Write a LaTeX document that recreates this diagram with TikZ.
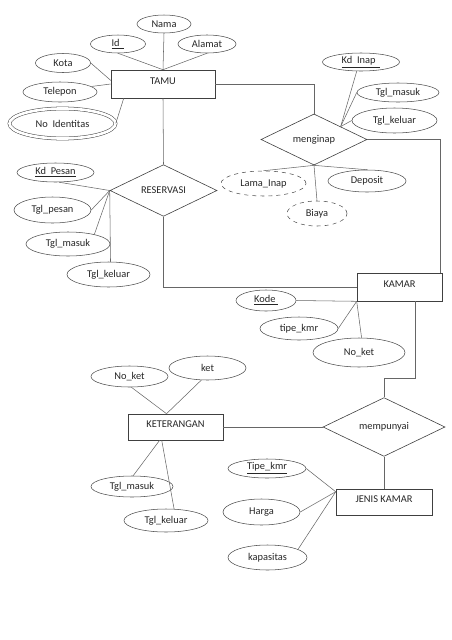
\documentclass[tikz,border=0pt]{standalone}
\usepackage{fontspec}
\setmainfont{Carlito}
\usetikzlibrary{shapes.geometric}
\begin{document}
\begin{tikzpicture}[x=0.75pt,y=-0.75pt,
  every node/.style={font=\fontsize{7.8}{9}\selectfont, text=black!85},
  ent/.style 2 args={draw=black!75, line width=0.45pt, rectangle, minimum width=#1*0.75pt, minimum height=#2*0.75pt, inner sep=0pt, text height=5.5pt, text depth=5pt},
  att/.style 2 args={draw=black!70, line width=0.4pt, ellipse, minimum width=#1*0.75pt, minimum height=#2*0.75pt, inner sep=0pt},
  rel/.style 2 args={draw=black!75, line width=0.45pt, diamond, minimum width=#1*0.75pt, minimum height=#2*0.75pt, inner sep=0pt},
  conn/.style={draw=black!60, line width=0.4pt}]
\useasboundingbox (0,0) rectangle (452,640);

% TAMU
\node[ent={104}{28}] (tamu) at (163,84) {TAMU};
\node[att={54}{18}] (nama) at (164,24) {Nama};
\node[att={55}{18}] (id) at (118,44) {\underline{Id\ \ }};
\node[att={58}{18}] (alamat) at (207,44) {Alamat};
\node[att={55}{19}] (kota) at (63,63) {Kota};
\node[att={74}{20}] (telepon) at (60,92) {Telepon};
\node[att={106}{30}, double, double distance=2pt] (noid) at (62.5,123.5) {No~ Identitas};
\draw[conn] (nama.south) -- (tamu.north);
\draw[conn] (id.south) -- (tamu.north);
\draw[conn] (alamat.south) -- (tamu.north);
\draw[conn] (kota.east) -- (tamu.176);
\draw[conn] (telepon.10) -- (tamu.west);
\draw[conn] (noid.east) -- (tamu.200);

% menginap
\node[rel={106}{39}] (mi) at (314,139.5) {menginap};
\node[att={77}{18}] (kdinap) at (361,62) {\underline{Kd~~Inap~~}};
\node[att={82}{19}] (tglmasuka) at (398,92.5) {Tgl\_masuk};
\node[att={85}{25}] (tglkeluara) at (394.5,120.5) {Tgl\_keluar};
\node[att={85}{25}, dashed] (lama) at (263.5,183.5) {Lama\_Inap};
\node[att={60}{25}, dashed] (biaya) at (317,213.5) {Biaya};
\node[att={78}{22}] (deposit) at (367,181) {Deposit};
\draw[conn] (tamu.east) -| (mi.north);
\draw[conn] (kdinap.245) -- (mi.north east);
\draw[conn] (tglmasuka.west) -- (mi.north east);
\draw[conn] (tglkeluara.west) -- (mi.north east);
\draw[conn] (lama.north) -- (mi.south);
\draw[conn] (biaya.north) -- (mi.south);
\draw[conn] (deposit.north) -- (mi.south);

% RESERVASI
\node[rel={107}{41}] (res) at (163.5,190.5) {RESERVASI};
\node[att={77}{19}] (kdpesan) at (55.5,172.5) {\underline{Kd~~Pesan}};
\node[att={77}{26}] (tglpesan) at (52.5,210) {Tgl\_pesan};
\node[att={84}{24}] (tglmasukb) at (68,244) {Tgl\_masuk};
\node[att={83}{25}] (tglkeluarb) at (108.5,274.5) {Tgl\_keluar};
\draw[conn] (tamu.south) -- (res.north);
\draw[conn] (kdpesan.290) -- (res.west);
\draw[conn] (tglpesan.east) -- (res.west);
\draw[conn] (tglmasukb.20) -- (res.west);
\draw[conn] (tglkeluarb.81) -- (res.west);

% KAMAR
\node[ent={85}{28}] (kamar) at (399.5,287) {KAMAR};
\node[att={60}{21}] (kode) at (266,300.5) {\underline{Kode\ }};
\node[att={78}{23}] (tipekmr) at (299,328.5) {tipe\_kmr};
\node[att={92}{29}] (noketa) at (359,352.5) {No\_ket};
\draw[conn] (res.south) |- (kamar.west);
\draw[conn] (mi.east) -| ([xshift=-1.5pt]kamar.north east);
\draw[conn] (kode.east) -- (kamar.south west);
\draw[conn] (tipekmr.east) -- (kamar.south west);
\draw[conn] (noketa.80) -- (kamar.south west);

% mempunyai
\node[rel={122}{39}] (mp) at (384,427) {mempunyai};
\draw[conn] ([xshift=11.6pt]kamar.south) -- ++(0,77) -| (mp.north);

% KETERANGAN
\node[ent={95}{26}] (keter) at (175.5,427) {KETERANGAN};
\node[att={77}{21}] (noketb) at (129.5,376.5) {No\_ket};
\node[att={77}{24}] (ketatt) at (207.5,368) {ket};
\node[att={82}{21}] (tglmasukc) at (132,486.5) {Tgl\_masuk};
\node[att={84}{23}] (tglkeluarc) at (166,520.5) {Tgl\_keluar};
\draw[conn] (keter.east) -- (mp.west);
\draw[conn] (noketb.280) -- (keter.124);
\draw[conn] (ketatt.243) -- (keter.124);
\draw[conn] (tglmasukc.84) -- (keter.220);
\draw[conn] (keter.224) -- (tglkeluarc.55);

% JENIS KAMAR
\node[ent={96}{26}] (jk) at (384,502) {JENIS KAMAR};
\node[att={78}{19}] (tipekmrb) at (267,468.5) {\underline{Tipe\_kmr}};
\node[att={77}{26}] (harga) at (261.5,512) {Harga};
\node[att={79}{25}] (kap) at (267.5,557.5) {kapasitas};
\draw[conn] (mp.south) -- (jk.north);
\draw[conn] (tipekmrb.east) -- (jk.168);
\draw[conn] (harga.east) -- (jk.168);
\draw[conn] (kap.15) -- (jk.168);
\end{tikzpicture}
\end{document}
